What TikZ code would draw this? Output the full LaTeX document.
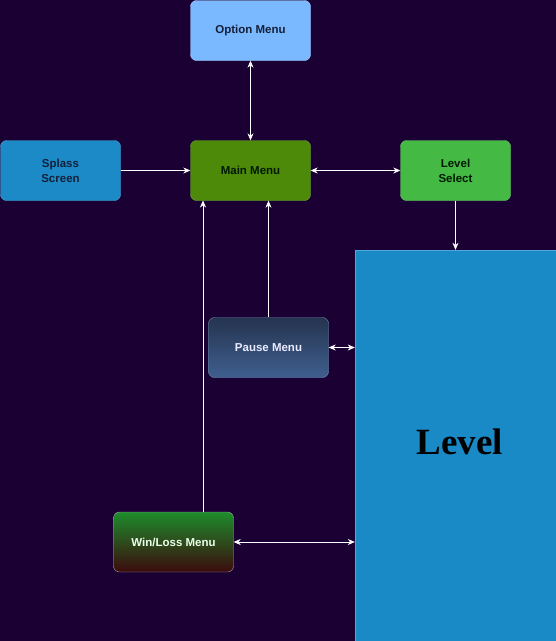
\documentclass[tikz,border=0pt]{standalone}
\usepackage{fontspec}
\setmainfont{Liberation Sans}
\newfontfamily\levelfont{Liberation Serif}
\usepackage{tikz}
\usetikzlibrary{shapes,arrows,arrows.meta,positioning,fit,calc}
\usepackage{xcolor}

\definecolor{bgdark}{HTML}{1A0033}
\definecolor{optfill}{HTML}{7AB8FF}
\definecolor{optdraw}{HTML}{A6CCFF}
\definecolor{splfill}{HTML}{1B8AC6}
\definecolor{spldraw}{HTML}{4AA6DC}
\definecolor{mainfill}{HTML}{4D8A0A}
\definecolor{maindraw}{HTML}{6FA83A}
\definecolor{selfill}{HTML}{44B944}
\definecolor{seldraw}{HTML}{6CCB6C}
\definecolor{lvlfill}{HTML}{1A8AC6}
\definecolor{lvldraw}{HTML}{4FA8E0}
\definecolor{pausetop}{HTML}{25344F}
\definecolor{pausebot}{HTML}{3F5F8F}
\definecolor{wintop}{HTML}{1E8C2C}
\definecolor{winbot}{HTML}{3C0A0C}
\definecolor{darktext}{HTML}{14203A}

\begin{document}
\begin{tikzpicture}[
    x=1pt, y=-1pt,
    menu/.style={rectangle, draw, rounded corners=6pt, minimum width=120pt, minimum height=60pt, align=center, font=\bfseries\fontsize{11.5}{15}\selectfont, text=darktext},
    option/.style={menu, fill=optfill, draw=optdraw},
    splash/.style={menu, fill=splfill, draw=spldraw},
    mainm/.style={menu, fill=mainfill, draw=maindraw, text=green!10!black},
    select/.style={menu, minimum width=110pt, fill=selfill, draw=seldraw, text=green!10!black},
    pause/.style={menu, top color=pausetop, bottom color=pausebot, draw=pausebot!70!white, text=white!92!blue},
    winloss/.style={menu, top color=wintop, bottom color=winbot, draw=gray!70, text=white!92!green},
    link/.style={white, ->, >={Stealth[length=7pt,width=6pt]}, semithick}
  ]
    \useasboundingbox[fill=bgdark] (0,0) rectangle (556,641);

    % Menus
    \node[option] (option) at (250.5,30.5) {Option Menu};
    \node[splash] (splash) at (60.5,170.5) {Splass\\Screen};
    \node[mainm] (main) at (250.5,170.5) {Main Menu};
    \node[select] (select) at (455.5,170.5) {Level\\Select};

    % Level
    \node[rectangle, draw=lvldraw, fill=lvlfill, minimum width=201pt, minimum height=391pt, inner sep=0pt, font=\levelfont\bfseries\fontsize{37}{40}\selectfont, text=black] (level) at (455.5,445.5) {\hspace*{9pt}\raisebox{8pt}{Level}};

    % In-game menus
    \node[pause] (pause) at (268.5,347.5) {Pause Menu};
    \node[winloss] (winloss) at (173.5,542) {Win/Loss Menu};

    % Arrows
    \draw[link, <->] (option.south) -- (main.north);
    \draw[link] (splash.east) -- (main.west);
    \draw[link, <->] (main.east) -- (select.west);
    \draw[link] (select.south) -- (select.south |- level.north);
    \draw[link] (pause.north) -- (pause.north |- main.south);
    \draw[link, <->] (pause.east) -- (pause.east -| level.west);
    \draw[link] (winloss.north -| 203,0) -- (203,200.5);
    \draw[link, <->] (winloss.east) -- (winloss.east -| level.west);
  \end{tikzpicture}
\end{document}
